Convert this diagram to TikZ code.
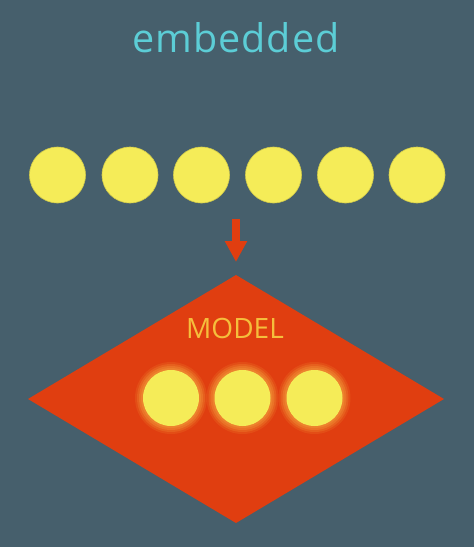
\documentclass[tikz,border=0pt]{standalone}
\usepackage{fontspec}
\setmainfont{Open Sans}
\usetikzlibrary{arrows.meta,shapes.geometric}
\definecolor{bgc}{RGB}{70,95,108}
\definecolor{titlec}{RGB}{92,205,214}
\definecolor{dotc}{RGB}{245,236,88}
\definecolor{redc}{RGB}{224,62,16}
\definecolor{modelc}{RGB}{245,190,60}
\definecolor{glowc}{RGB}{240,140,50}
\tikzset{
  topdot/.style={circle,fill=dotc,draw=dotc!85!black,line width=0.6pt,minimum size=56pt,inner sep=0pt},
  innerdot/.style={circle,fill=dotc,minimum size=56pt,inner sep=0pt},
  glowring/.style={circle,fill=glowc,fill opacity=#1,inner sep=0pt},
  arrowline/.style={draw=redc,line width=8pt,-{Triangle[width=21pt,length=21pt]}},
}
\begin{document}
\begin{tikzpicture}[x=1pt,y=-1pt]
\useasboundingbox (0,0) rectangle (474,547);
\fill[bgc] (0,0) rectangle (474,547);
\node[anchor=base,text=titlec,font=\fontsize{39.5}{42}\selectfont\addfontfeatures{LetterSpace=2.5}] (title) at (236,52) {embedded};
\foreach \i/\x in {1/57.5,2/130,3/201.5,4/273.5,5/345.5,6/417}{
  \node[topdot] (t\i) at (\x,175) {};
}
\coordinate (as) at (236,219);
\coordinate (ae) at (236,262);
\draw[arrowline] (as) -- (ae);
\coordinate (dt) at (236,275);
\coordinate (dr) at (444,399);
\coordinate (db) at (236,523);
\coordinate (dl) at (28,399);
\fill[redc] (dt) -- (dr) -- (db) -- (dl) -- cycle;
\node[anchor=base,text=modelc,font=\fontsize{28}{30}\selectfont] (model) at (235,338) {MODEL};
\foreach \i/\x in {1/171,2/242.5,3/314.5}{
  \node[glowring=0.2,minimum size=72pt] (ga\i) at (\x,398) {};
  \node[glowring=0.3,minimum size=68pt] (gb\i) at (\x,398) {};
  \node[glowring=0.45,minimum size=64pt] (gc\i) at (\x,398) {};
  \node[glowring=0.6,minimum size=60pt] (gd\i) at (\x,398) {};
  \node[innerdot] (m\i) at (\x,398) {};
}
\end{tikzpicture}
\end{document}
